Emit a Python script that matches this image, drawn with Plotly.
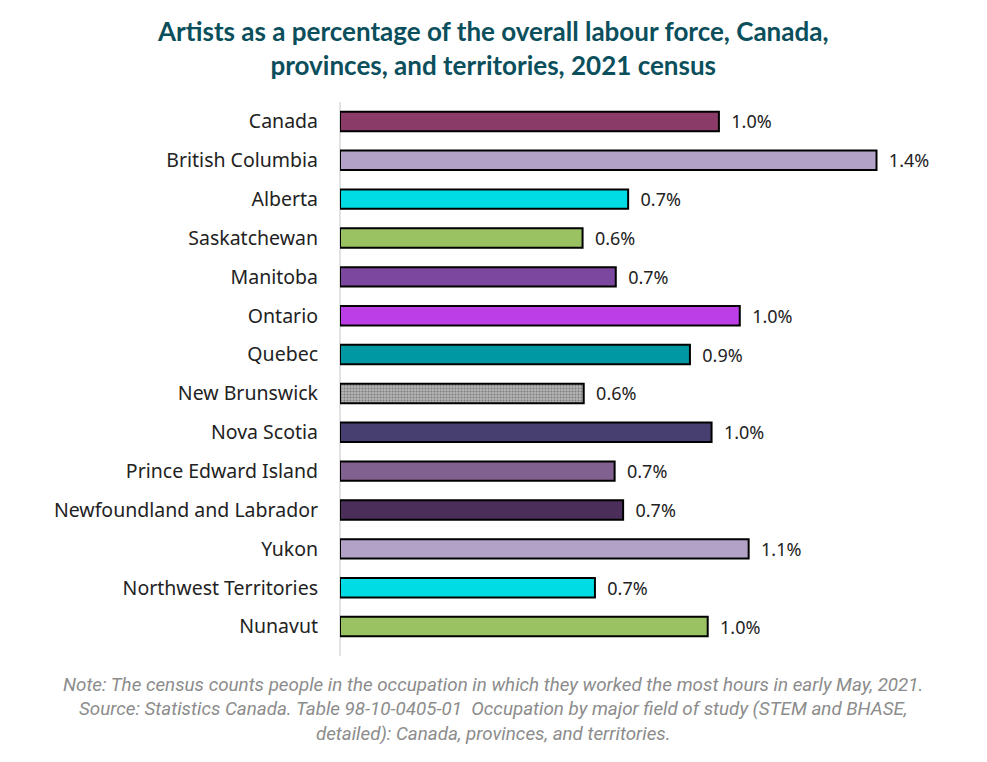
import plotly.graph_objects as go

categories = ["Canada", "British Columbia", "Alberta", "Saskatchewan", "Manitoba",
              "Ontario", "Quebec", "New Brunswick", "Nova Scotia",
              "Prince Edward Island", "Newfoundland and Labrador", "Yukon",
              "Northwest Territories", "Nunavut"]
values = [0.981, 1.389, 0.746, 0.628, 0.714, 1.035, 0.906, 0.631, 0.962,
          0.711, 0.733, 1.058, 0.660, 0.952]
colors = ["#8B3B67", "#B2A2C8", "#00DCE4", "#9AC263", "#7C479F", "#BB3EE6",
          "#0098A3", "#B4B4B4", "#463F6F", "#80618F", "#4B2E59", "#B2A2C8",
          "#00DCE4", "#9AC263"]
patterns = ["", "", "", "", "", "", "", ".", "", "", "", "", "", ""]

title = ("<b>Artists as a percentage of the overall labour force, Canada,<br>"
         "provinces, and territories, 2021 census</b>")
note = ("Note: The census counts people in the occupation in which they worked the most hours in early May, 2021.<br>"
        "Source: Statistics Canada. Table 98-10-0405-01  Occupation by major field of study (STEM and BHASE,<br>"
        "detailed): Canada, provinces, and territories.")

fig = go.Figure()
fig.add_trace(go.Bar(
    y=categories, x=values, orientation="h",
    marker=dict(color=colors, line=dict(color="#000000", width=2),
                pattern=dict(shape=patterns, fgcolor="#8A8A8A", bgcolor="#C4C4C4",
                             size=3, solidity=0.35)),
    texttemplate="  %{x:.1f}%", textposition="outside", constraintext="none",
    textfont=dict(family="Noto Sans, Open Sans, sans-serif", size=18, color="#222222"),
    cliponaxis=False, width=0.5, hoverinfo="skip",
))

PX0 = 340
PW = 618
PH = 544
fig.update_layout(
    width=987, height=762,
    margin=dict(l=PX0, r=987 - PX0 - PW, t=102, b=116),
    paper_bgcolor="white", plot_bgcolor="white",
    showlegend=False,
    xaxis=dict(range=[0, 1.6], visible=False, fixedrange=True),
    yaxis=dict(autorange="reversed", showline=False,
               ticks="", ticklen=0, showgrid=False, ticklabelstandoff=21,
               tickfont=dict(family="Noto Sans, Open Sans, sans-serif", size=19.5, color="#222222")),
    shapes=[dict(type="line", xref="paper", yref="paper", x0=0, x1=0,
                 y0=-(656 - 646) / PH, y1=1, line=dict(color="#D9D9D9", width=1.5),
                 layer="below")],
    annotations=[
        dict(text=title, xref="paper", yref="paper", x=(493 - PX0) / PW,
             y=1 + (102 - 13) / PH, xanchor="center", yanchor="top", showarrow=False,
             align="center",
             font=dict(family="Lato, Open Sans, sans-serif", size=26, color="#0B4F5C")),
        dict(text=note, xref="paper", yref="paper", x=(493 - PX0) / PW,
             y=-(672 - 646) / PH, xanchor="center", yanchor="top", showarrow=False,
             align="center",
             font=dict(family="Liberation Sans Narrow, Roboto, sans-serif", size=18.8,
                       color="#8C8C8C", style="italic")),
    ],
)

fig.write_html("out.html")
